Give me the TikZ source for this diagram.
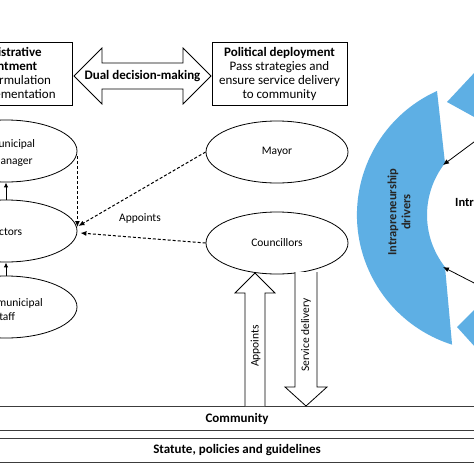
\documentclass[tikz,border=0pt]{standalone}
\usepackage{fontspec}
\setmainfont{Carlito}
\usetikzlibrary{arrows.meta,shapes.geometric,calc}
\definecolor{ringblue}{RGB}{94,175,228}
\definecolor{linegray}{RGB}{60,60,60}
\begin{document}
\begin{tikzpicture}[x=1pt,y=-1pt,
  boxtxt/.style={font=\fontsize{13}{14}\selectfont, align=center},
  ell/.style={draw, ellipse, line width=0.8pt, minimum width=142pt, minimum height=62pt, inner sep=0pt},
  elltxt/.style={font=\fontsize{11.5}{15}\selectfont, align=center},
  dashline/.style={dashed, line width=1pt, dash pattern=on 3pt off 2pt, -{Latex[length=6pt,width=5pt]}},
  uparrow/.style={line width=1pt, -{Latex[length=5pt,width=4.5pt]}},
  blockar/.style={draw, line width=0.8pt, fill=white},
  bar/.style={draw=linegray, line width=1pt, minimum width=500pt, minimum height=24pt, inner sep=0pt, font=\fontsize{13}{14}\selectfont\bfseries}
]
\useasboundingbox (0,0) rectangle (474,474);
\fill[white] (0,0) rectangle (474,474);

% top boxes
\node[draw, line width=0.8pt, minimum width=140pt, minimum height=63pt, inner sep=0pt, boxtxt] (admin) at (2,73.5)
  {\textbf{Administrative}\\\textbf{appointment}\\Policy Formulation\\and implementation};
\node[draw, line width=0.8pt, minimum width=135pt, minimum height=63pt, inner sep=0pt, boxtxt] (pol) at (279.5,73.5)
  {\textbf{Political deployment}\\Pass strategies and\\ensure service delivery\\to community};

% dual arrow
\draw[line width=0.8pt] (74,76) -- (102,48) -- (102,63) -- (183,63) -- (183,48) -- (211,76)
  -- (183,104) -- (183,89) -- (102,89) -- (102,104) -- cycle;
\node[font=\fontsize{13}{14}\selectfont\bfseries] (dual) at (142.5,76) {Dual decision-making};

% left ellipses
\node[ell] (mgr) at (6,151) {};
\node[ell] (dir) at (6,231) {};
\node[ell] (staff) at (6,307) {};
\node[elltxt, font=\fontsize{11.5}{17}\selectfont] (mgrt) at (12,153) {Municipal\\manager};
\node[elltxt] (dirt) at (1,232) {Directors};
\node[elltxt, font=\fontsize{11.5}{14}\selectfont] (stafft) at (5,310) {Other municipal\\staff};

\draw[uparrow] (dir.north) -- (mgr.south);
\draw[uparrow] (staff.north) -- (dir.south);

% right ellipses
\node[ell, elltxt] (mayor) at (277,152) {Mayor};
\node[ell, elltxt] (coun) at (277,243) {Councillors};

% dashed appoint lines
\draw[dashline] ($(mgr.east)+(0,5)$) -- ($(dir.east)+(0,-4)$);
\draw[dashline] (mayor.west) -- ($(dir.east)+(1,-5)$);
\draw[dashline] (coun.west) -- ($(dir.east)+(3,2)$);
\node[elltxt] (applab) at (140,218) {Appoints};

% bottom bars
\node[bar] (comm) at (237,418.5) {Community};
\node[bar] (stat) at (237,450) {Statute, policies and guidelines};

% vertical block arrows
\draw[blockar] (245,406) -- (245,293) -- (235,293) -- (255,273) -- (275,293) -- (265,293) -- (265,406);
\draw[blockar] (295,272) -- (295,387) -- (285,387) -- (306,406) -- (327,387) -- (317,387) -- (317,272);
\node[elltxt, rotate=90] (applab2) at (255.5,346) {Appoints};
\node[elltxt, rotate=90] (sdlab) at (306,335) {Service delivery};

% ring segments
\fill[ringblue] (437,91) arc[start angle=245.7, end angle=107.5, radius=136] -- (445,267)
  arc[start angle=141.8, end angle=218.2, radius=84] -- cycle;
\fill[ringblue] (447,102) -- (476,71) -- (476,118) -- cycle;
\fill[ringblue] (457,327) -- (476,308) -- (476,348) -- cycle;
\node[font=\fontsize{12.5}{14}\selectfont\bfseries, align=center, rotate=90, text=black!85] (drv) at (399,212) {Intrapreneurship\\drivers};
\node[font=\fontsize{12.5}{14}\selectfont\bfseries, anchor=west, inner sep=0pt] (intr) at (455,203) {Intrapreneurship};
\coordinate (a1) at (478,139);
\coordinate (a2) at (478,285);
\coordinate (t1) at (443,165);
\coordinate (t2) at (443,267);
\draw[line width=0.8pt, -{Latex[length=6pt,width=5pt]}] (a1) -- (t1);
\draw[line width=0.8pt, -{Latex[length=6pt,width=5pt]}] (a2) -- (t2);
\end{tikzpicture}
\end{document}
